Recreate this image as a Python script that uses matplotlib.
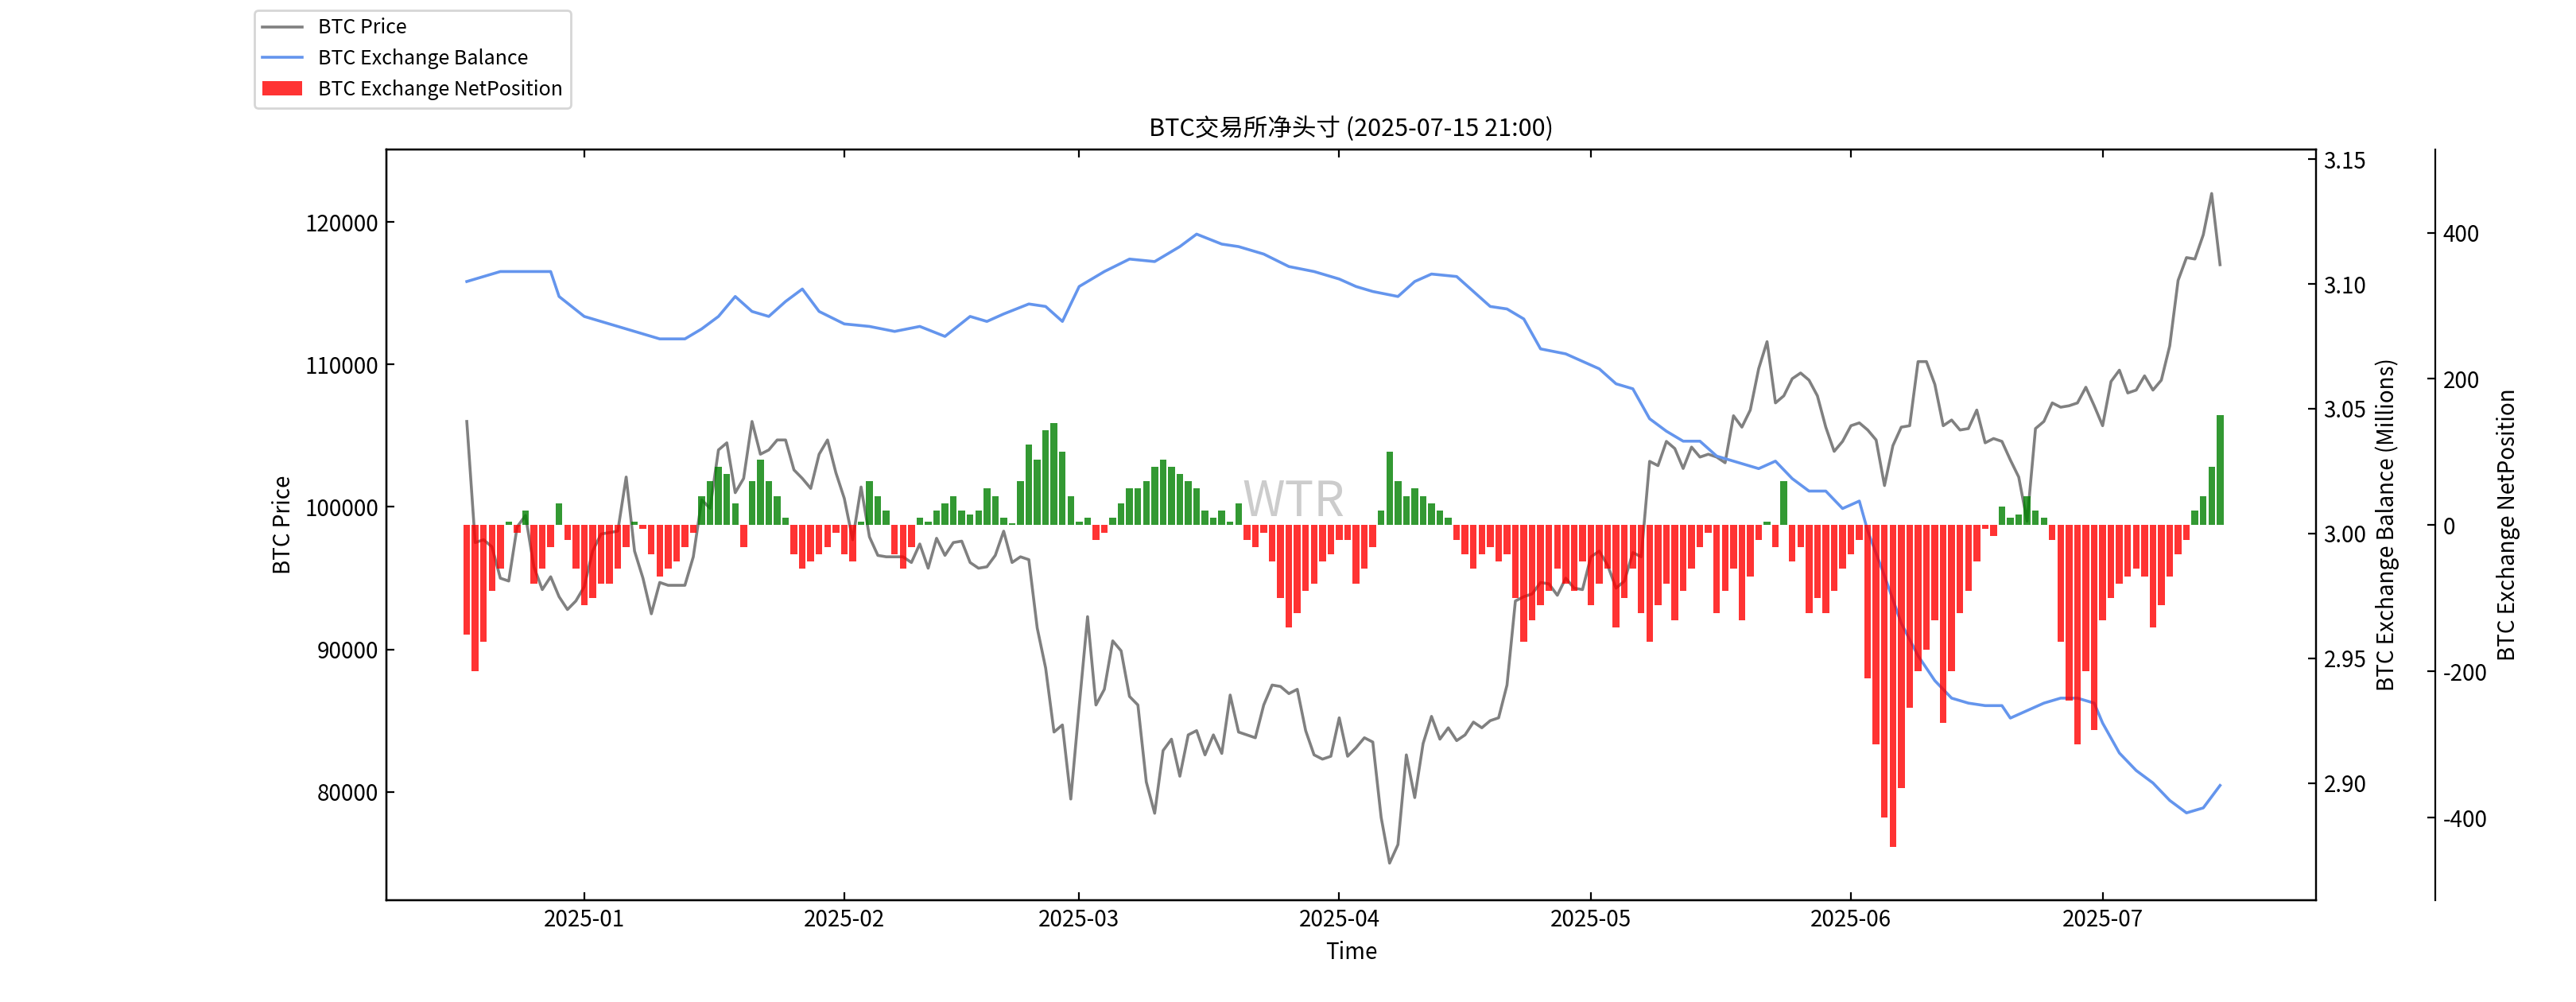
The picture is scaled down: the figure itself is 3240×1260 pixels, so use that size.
import matplotlib
matplotlib.use("Agg")
import matplotlib.pyplot as plt
import matplotlib.dates as mdates
import numpy as np
import pandas as pd

plt.rcParams['font.family'] = ['Noto Sans CJK SC', 'DejaVu Sans']
plt.rcParams['axes.unicode_minus'] = False

# daily BTC price, starting 2024-12-18
price_start = "2024-12-18"
price = [106000, 97500, 97700, 97200, 95000, 94800, 98600, 99400, 95800, 94200,
         95100, 93700, 92800, 93400, 94400, 96900, 98100, 98200, 98300, 102100,
         96900, 95000, 92500, 94700, 94500, 94500, 94500, 96500, 100500, 99900,
         104000, 104500, 101000, 102000, 106000, 103700, 104000, 104700, 104700, 102600,
         102000, 101300, 103700, 104700, 102400, 100600, 97700, 101400, 97900, 96600,
         96500, 96500, 96500, 96100, 97400, 95700, 97800, 96600, 97500, 97600,
         96100, 95700, 95800, 96600, 98300, 96100, 96500, 96300, 91500, 88700,
         84200, 84700, 79500, 86000, 92300, 86100, 87200, 90600, 89900, 86700,
         86100, 80700, 78500, 82900, 83700, 81100, 84000, 84300, 82600, 84000,
         82700, 86800, 84200, 84000, 83800, 86100, 87500, 87400, 86900, 87200,
         84300, 82600, 82300, 82500, 85200, 82500, 83100, 83800, 83500, 78200,
         75000, 76300, 82600, 79600, 83400, 85300, 83700, 84500, 83600, 84000,
         84900, 84500, 85000, 85200, 87500, 93400, 93700, 93900, 94700, 94600,
         93800, 95000, 94300, 94200, 96500, 96900, 95900, 94300, 94800, 96800,
         96500, 103200, 102900, 104600, 104100, 102700, 104200, 103500, 103700, 103500,
         103100, 106400, 105600, 106800, 109700, 111600, 107300, 107800, 109000, 109400,
         108900, 107800, 105600, 103900, 104600, 105700, 105900, 105400, 104700, 101500,
         104300, 105600, 105700, 110200, 110200, 108600, 105700, 106100, 105400, 105500,
         106800, 104500, 104800, 104600, 103300, 102100, 99000, 105500, 106000, 107300,
         107000, 107100, 107300, 108400, 107100, 105700, 108800, 109600, 108000, 108200,
         109200, 108200, 108900, 111300, 115900, 117500, 117400, 119100, 122000, 117000]

# exchange balance (millions), irregular dates
bal_dates = ["2024-12-18", "2024-12-22", "2024-12-28", "2024-12-29", "2025-01-01", "2025-01-04",
             "2025-01-08", "2025-01-10", "2025-01-13", "2025-01-15", "2025-01-17", "2025-01-19",
             "2025-01-21", "2025-01-23", "2025-01-25", "2025-01-27", "2025-01-29", "2025-02-01",
             "2025-02-04", "2025-02-07", "2025-02-10", "2025-02-13", "2025-02-16", "2025-02-18",
             "2025-02-20", "2025-02-23", "2025-02-25", "2025-02-27", "2025-03-01", "2025-03-04",
             "2025-03-07", "2025-03-10", "2025-03-13", "2025-03-15", "2025-03-18", "2025-03-20",
             "2025-03-23", "2025-03-26", "2025-03-29", "2025-04-01", "2025-04-03", "2025-04-05",
             "2025-04-08", "2025-04-10", "2025-04-12", "2025-04-15", "2025-04-17", "2025-04-19",
             "2025-04-21", "2025-04-23", "2025-04-25", "2025-04-28", "2025-04-30", "2025-05-02",
             "2025-05-04", "2025-05-06", "2025-05-08", "2025-05-10", "2025-05-12", "2025-05-14",
             "2025-05-16", "2025-05-19", "2025-05-21", "2025-05-23", "2025-05-25", "2025-05-27",
             "2025-05-29", "2025-05-31", "2025-06-02", "2025-06-03", "2025-06-05", "2025-06-07",
             "2025-06-09", "2025-06-11", "2025-06-13", "2025-06-15", "2025-06-17", "2025-06-19",
             "2025-06-20", "2025-06-22", "2025-06-24", "2025-06-26", "2025-06-28", "2025-06-30",
             "2025-07-01", "2025-07-03", "2025-07-05", "2025-07-07", "2025-07-09", "2025-07-11",
             "2025-07-13", "2025-07-15"]
balance = [3.101, 3.105, 3.105, 3.095, 3.087, 3.084,
           3.080, 3.078, 3.078, 3.082, 3.087, 3.095,
           3.089, 3.087, 3.093, 3.098, 3.089, 3.084,
           3.083, 3.081, 3.083, 3.079, 3.087, 3.085,
           3.088, 3.092, 3.091, 3.085, 3.099, 3.105,
           3.110, 3.109, 3.115, 3.120, 3.116, 3.115,
           3.112, 3.107, 3.105, 3.102, 3.099, 3.097,
           3.095, 3.101, 3.104, 3.103, 3.097, 3.091,
           3.090, 3.086, 3.074, 3.072, 3.069, 3.066,
           3.060, 3.058, 3.046, 3.041, 3.037, 3.037,
           3.031, 3.028, 3.026, 3.029, 3.022, 3.017,
           3.017, 3.010, 3.013, 3.001, 2.983, 2.964,
           2.951, 2.941, 2.934, 2.932, 2.931, 2.931,
           2.926, 2.929, 2.932, 2.934, 2.934, 2.932,
           2.924, 2.912, 2.905, 2.900, 2.893, 2.888,
           2.890, 2.899]

# daily exchange net position, starting 2024-12-18
net_start = "2024-12-18"
net_position = [-150, -200, -160, -90, -60, 5, -10, 20, -80, -60,
                -30, 30, -20, -60, -110, -100, -80, -80, -60, -30,
                5, -5, -40, -70, -60, -50, -30, -10, 40, 60,
                80, 70, 30, -30, 60, 90, 60, 40, 10, -40,
                -60, -50, -40, -30, -10, -40, -50, 5, 60, 40,
                20, -40, -60, -30, 10, 5, 20, 30, 40, 20,
                15, 20, 50, 40, 10, 2, 60, 110, 90, 130,
                140, 100, 40, 5, 10, -20, -10, 10, 30, 50,
                50, 60, 80, 90, 80, 70, 60, 50, 20, 10,
                20, 5, 30, -20, -30, -10, -50, -100, -140, -120,
                -90, -80, -50, -40, -20, -20, -80, -60, -30, 20,
                100, 60, 40, 50, 40, 30, 20, 10, -20, -40,
                -60, -40, -30, -50, -40, -100, -160, -130, -110, -90,
                -60, -80, -90, -50, -110, -80, -60, -140, -100, -60,
                -120, -160, -110, -80, -130, -90, -60, -30, -10, -120,
                -90, -60, -130, -70, -20, 5, -30, 60, -50, -30,
                -120, -100, -120, -90, -60, -40, -20, -210, -300, -400,
                -440, -360, -250, -200, -170, -130, -270, -200, -120, -90,
                -50, -5, -15, 25, 10, 15, 40, 20, 10, -20,
                -160, -240, -300, -200, -280, -130, -100, -80, -70, -60,
                -70, -140, -110, -70, -40, -20, 20, 40, 80, 150]

price_dates = pd.date_range(price_start, periods=len(price), freq="D")
net_dates = pd.date_range(net_start, periods=len(net_position), freq="D")
bal_dates = pd.to_datetime(bal_dates)

fig = plt.figure(figsize=(16.2, 6.3), dpi=200)
ax = fig.add_axes([0.15, 0.1016, 0.749, 0.7494])
ax2 = ax.twinx()
ax3 = ax.twinx()
ax3.spines['right'].set_position(('axes', 1.062))

l1, = ax.plot(price_dates, price, color='grey', lw=1.3, label='BTC Price')
l2, = ax2.plot(bal_dates, balance, color='cornflowerblue', lw=1.3, label='BTC Exchange Balance')
net = np.array(net_position)
colors = np.where(net >= 0, 'green', 'red')
b = ax3.bar(net_dates, net, width=0.8, color=colors, alpha=0.8,
            label='BTC Exchange NetPosition')

ax.set_ylim(72400, 125100)
ax2.set_ylim(2.853, 3.154)
ax3.set_ylim(-513, 514)
ax.set_xlim(pd.Timestamp("2024-12-08 10:00"), pd.Timestamp("2025-07-26 10:00"))
ax.xaxis.set_major_locator(mdates.MonthLocator())
ax.xaxis.set_major_formatter(mdates.DateFormatter('%Y-%m'))
ax2.set_yticks([2.90, 2.95, 3.00, 3.05, 3.10, 3.15])
ax2.set_yticklabels(['2.90', '2.95', '3.00', '3.05', '3.10', '3.15'])
ax3.set_yticks([-400, -200, 0, 200, 400])

for a in (ax, ax2, ax3):
    a.tick_params(direction='in', labelsize=10)
ax.tick_params(axis='x', top=True)

ax.set_xlabel('Time', fontsize=10)
ax.set_ylabel('BTC Price', fontsize=10)
ax2.set_ylabel('BTC Exchange Balance (Millions)', fontsize=10)
ax3.set_ylabel('BTC Exchange NetPosition', fontsize=10)
ax.set_title('BTC交易所净头寸 (2025-07-15 21:00)', fontsize=11)

ax.text(0.47, 0.53, 'WTR', transform=ax.transAxes, fontsize=22, color='grey',
        alpha=0.4, ha='center', va='center')

fig.legend(handles=[l1, l2, b], loc='upper left', bbox_to_anchor=(0.095, 1.0),
           fontsize=9)

fig.savefig('out.png')
